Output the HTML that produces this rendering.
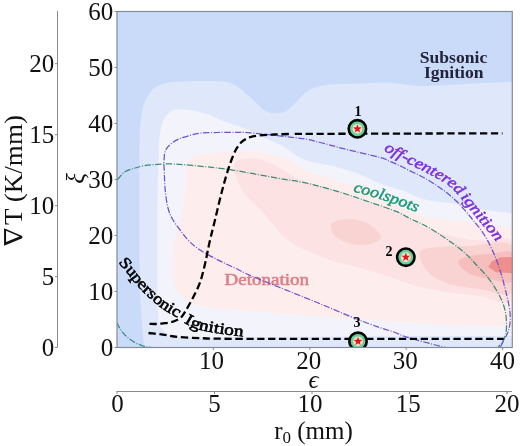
<!DOCTYPE html>
<html><head><meta charset="utf-8"><style>
html,body{margin:0;padding:0;background:#fff;}
body{width:520px;height:446px;overflow:hidden;}
svg{display:block;}
.tk{font-family:"Liberation Serif","DejaVu Serif",serif;font-size:25px;fill:#111;}
.bx{font-family:"Liberation Serif","DejaVu Serif",serif;font-weight:bold;}
</style></head><body>
<svg width="520" height="446" viewBox="0 0 520 446">
<defs><clipPath id="pc"><rect x="117" y="11.5" width="395.3" height="336"/></clipPath>
<path id="pOff" d="M383.5,150.3 C386.9,152.2 397.1,157.9 404.0,161.5 C410.9,165.1 418.5,168.6 425.0,172.0 C431.5,175.4 438.5,179.2 443.0,182.0 C447.5,184.8 449.2,186.0 452.0,188.5 C454.8,191.0 457.3,193.9 460.0,197.0 C462.7,200.1 465.4,204.1 468.0,207.3 C470.6,210.6 473.0,213.5 475.5,216.5 C478.0,219.5 480.6,222.7 483.0,225.5 C485.4,228.3 487.8,230.8 490.0,233.5 C492.2,236.2 495.4,240.6 496.5,242.0"/>
<path id="pSup" d="M118.3,262.5 C120.1,264.7 125.5,271.3 129.0,275.5 C132.4,279.7 134.3,282.9 139.0,287.8 C143.7,292.7 152.2,300.6 157.0,304.6 C161.8,308.6 164.1,309.8 167.5,312.0 C170.9,314.2 175.8,316.8 177.5,317.8"/>
<path id="pIgn" d="M184.0,322.6 C185.3,323.3 189.0,325.7 192.0,327.0 C195.0,328.3 196.6,329.1 201.9,330.3 C207.2,331.5 216.8,333.2 223.6,334.2 C230.4,335.2 239.8,336.1 243.0,336.5"/>
<path id="pCool" d="M353.0,191.5 C356.7,192.5 368.0,195.4 375.0,197.5 C382.0,199.6 388.0,201.6 395.0,204.0 C402.0,206.4 413.3,210.7 417.0,212.0"/>
</defs>
<g clip-path="url(#pc)">
<rect x="117" y="11.5" width="395.3" height="336" fill="#c9dbf9"/>
<path d="M144.0,347.5 C143.4,339.6 141.3,316.2 140.5,300.0 C139.7,283.8 139.6,266.7 139.4,250.0 C139.2,233.3 139.3,216.7 139.3,200.0 C139.3,183.3 139.3,162.5 139.5,150.0 C139.7,137.5 139.7,132.0 140.3,125.0 C140.9,118.0 141.9,112.6 143.0,108.0 C144.1,103.4 145.3,100.6 147.0,97.5 C148.7,94.4 150.7,91.7 153.0,89.5 C155.3,87.3 157.8,85.8 161.0,84.5 C164.2,83.2 167.2,82.5 172.0,82.0 C176.8,81.5 181.7,81.3 190.0,81.2 C198.3,81.1 214.6,81.0 222.0,81.6 C229.4,82.2 231.0,83.4 234.5,85.0 C238.0,86.6 239.6,88.2 243.0,91.0 C246.4,93.8 251.4,98.5 255.0,101.7 C258.6,104.9 261.4,108.5 264.6,110.4 C267.8,112.3 270.5,113.2 274.0,113.3 C277.5,113.4 282.2,113.1 285.8,111.3 C289.4,109.5 291.9,106.0 295.4,102.7 C298.9,99.4 302.9,94.2 307.0,91.5 C311.1,88.8 315.3,87.5 320.0,86.3 C324.7,85.1 328.3,84.8 335.0,84.3 C341.7,83.8 351.0,83.8 360.0,83.5 C369.0,83.2 381.5,82.6 389.0,82.8 C396.5,83.0 399.8,84.0 405.0,84.5 C410.2,85.0 414.2,85.8 420.0,86.0 C425.8,86.2 432.5,85.8 440.0,85.5 C447.5,85.2 456.7,84.5 465.0,84.0 C473.3,83.5 482.1,83.1 490.0,82.8 C497.9,82.5 508.6,82.1 512.3,82.0 L512.3,347.5 Z" fill="#dfe8fb"/>
<path d="M176.0,337.5 C173.5,335.9 164.1,333.4 161.0,328.0 C157.9,322.6 158.2,318.0 157.6,305.0 C157.0,292.0 157.3,267.5 157.3,250.0 C157.3,232.5 157.3,216.7 157.6,200.0 C157.8,183.3 158.4,161.2 158.8,150.0 C159.2,138.8 159.4,138.0 160.2,133.0 C161.0,128.0 161.9,123.4 163.5,120.0 C165.1,116.6 167.2,114.2 169.5,112.5 C171.8,110.8 173.2,109.9 177.0,109.6 C180.8,109.3 187.3,109.8 192.0,110.5 C196.7,111.2 200.8,112.2 205.0,113.5 C209.2,114.8 212.8,116.8 217.0,118.5 C221.2,120.2 225.5,121.9 230.0,123.5 C234.5,125.1 239.2,126.1 244.0,128.0 C248.8,129.9 254.5,132.9 258.8,135.0 C263.1,137.1 265.9,138.6 270.0,140.5 C274.1,142.4 279.0,143.9 283.5,146.5 C288.0,149.1 292.5,153.5 297.0,156.0 C301.5,158.5 304.9,159.9 310.4,161.5 C315.9,163.1 325.1,164.4 330.0,165.5 C334.9,166.6 335.0,166.5 340.0,168.0 C345.0,169.5 352.7,171.7 360.0,174.5 C367.3,177.3 376.1,182.2 383.6,185.0 C391.1,187.8 398.2,188.9 405.0,191.3 C411.8,193.7 415.4,197.3 424.6,199.5 C433.8,201.7 450.9,202.9 460.0,204.5 C469.1,206.1 470.3,207.5 479.0,209.0 C487.7,210.5 506.7,212.8 512.3,213.5 L512.3,336 L480,336 C400,336 300,336.5 200,337.5 Z" fill="#f3f4fb"/>
<path d="M186.0,172.0 C186.3,170.3 186.5,164.7 188.0,162.0 C189.5,159.3 191.8,157.4 195.0,156.0 C198.2,154.6 201.2,154.2 207.0,153.5 C212.8,152.8 222.8,151.9 230.0,151.5 C237.2,151.1 241.8,150.2 250.0,151.0 C258.2,151.8 271.7,154.1 279.0,156.0 C286.3,157.9 289.8,160.2 294.0,162.5 C298.2,164.8 298.0,166.8 304.0,169.5 C310.0,172.2 324.0,176.4 330.0,178.5 C336.0,180.6 335.0,180.7 340.0,182.0 C345.0,183.3 353.0,183.9 360.0,186.5 C367.0,189.1 374.5,193.8 382.0,197.5 C389.5,201.2 397.0,205.1 405.0,208.5 C413.0,211.9 420.8,215.9 430.0,218.0 C439.2,220.1 451.8,220.0 460.0,221.0 C468.2,222.0 470.3,222.9 479.0,224.0 C487.7,225.1 506.7,226.9 512.3,227.5 L512.3,326.5 C510.2,326.5 510.4,326.8 500.0,326.5 C489.6,326.2 466.7,325.8 450.0,325.0 C433.3,324.2 415.7,323.0 400.0,322.0 C384.3,321.0 372.7,320.1 356.0,319.0 C339.3,317.9 317.7,316.8 300.0,315.5 C282.3,314.2 266.0,312.4 250.0,311.0 C234.0,309.6 214.1,308.7 203.8,307.0 C193.6,305.3 192.7,303.2 188.5,301.0 C184.3,298.8 181.3,297.3 178.8,294.0 C176.3,290.7 174.5,286.9 173.4,281.4 C172.3,275.9 172.1,267.7 172.2,261.0 C172.3,254.3 172.8,247.7 174.2,241.0 C175.5,234.3 178.4,229.3 180.3,220.8 C182.2,212.3 184.6,198.1 185.5,190.0 C186.4,181.9 185.9,175.0 186.0,172.0Z" fill="#fdeeed"/>
<path d="M234.0,166.0 C234.3,163.2 235.8,161.8 238.0,160.5 C240.2,159.2 243.3,158.7 247.0,158.5 C250.7,158.3 255.3,158.3 260.0,159.5 C264.7,160.7 270.0,163.1 275.0,165.5 C280.0,167.9 285.8,171.7 290.0,174.0 C294.2,176.3 294.0,177.2 300.0,179.5 C306.0,181.8 317.8,185.2 326.0,188.0 C334.2,190.8 341.3,193.3 349.0,196.0 C356.7,198.7 364.2,201.2 372.0,204.0 C379.8,206.8 387.2,209.0 395.5,212.5 C403.8,216.0 414.1,221.6 421.5,225.0 C428.9,228.4 432.8,230.7 440.0,233.0 C447.2,235.3 456.7,237.7 465.0,239.0 C473.3,240.3 482.1,240.3 490.0,241.0 C497.9,241.7 508.6,233.2 512.3,243.0 C516.0,252.8 517.7,291.2 512.3,300.0 C506.9,308.8 490.9,297.3 480.0,296.0 C469.1,294.7 457.0,293.5 447.0,292.0 C437.0,290.5 429.0,289.3 420.0,287.0 C411.0,284.7 402.2,281.0 393.0,278.0 C383.8,275.0 373.8,271.5 365.0,269.0 C356.2,266.5 346.0,264.6 340.0,263.0 C334.0,261.4 333.3,261.1 329.0,259.5 C324.7,257.9 318.8,255.5 314.0,253.5 C309.2,251.5 304.7,250.0 300.0,247.5 C295.3,245.0 290.0,241.8 286.0,238.5 C282.0,235.2 279.0,231.4 276.0,228.0 C273.0,224.6 270.8,221.2 268.0,218.0 C265.2,214.8 262.0,211.5 259.0,208.5 C256.0,205.5 253.0,203.4 250.0,200.0 C247.0,196.6 243.3,191.8 241.0,188.0 C238.7,184.2 237.2,180.7 236.0,177.0 C234.8,173.3 233.7,168.8 234.0,166.0Z" fill="#fce2e2"/>
<path d="M331.0,225.0 C331.8,222.3 336.0,220.9 340.0,220.0 C344.0,219.1 350.0,218.7 355.0,219.5 C360.0,220.3 365.7,222.1 370.0,225.0 C374.3,227.9 381.0,233.8 381.0,237.0 C381.0,240.2 374.8,242.8 370.0,244.0 C365.2,245.2 357.8,245.3 352.0,244.0 C346.2,242.7 338.5,239.2 335.0,236.0 C331.5,232.8 330.2,227.7 331.0,225.0Z" fill="#f9d2d2"/>
<path d="M420.0,252.0 C422.0,247.8 431.7,248.0 440.0,247.0 C448.3,246.0 457.9,246.2 470.0,246.0 C482.1,245.8 505.2,238.3 512.3,246.0 C519.3,253.7 517.7,284.8 512.3,292.0 C506.9,299.2 490.4,290.3 480.0,289.0 C469.6,287.7 458.7,286.8 450.0,284.0 C441.3,281.2 433.0,277.3 428.0,272.0 C423.0,266.7 418.0,256.2 420.0,252.0Z" fill="#f9d2d2"/>
<path d="M458.0,262.0 C458.0,259.0 464.7,257.3 470.0,256.0 C475.3,254.7 482.9,254.5 490.0,254.0 C497.1,253.5 508.6,248.5 512.3,253.0 C516.0,257.5 516.0,276.7 512.3,281.0 C508.6,285.3 497.1,280.2 490.0,279.0 C482.9,277.8 475.3,276.8 470.0,274.0 C464.7,271.2 458.0,265.0 458.0,262.0Z" fill="#f6bfbd"/>
<path d="M488.2,267 L491.7,261.5 L499.8,257.4 L512.3,257 L512.3,273.2 L496.2,272.3 Z" fill="#ef8e8c"/>
<text x="224.6" y="285" font-family="Liberation Serif, DejaVu Serif, serif" font-size="16.5" fill="#dc7f86" stroke="#dc7f86" stroke-width="0.55" textLength="84.5" lengthAdjust="spacingAndGlyphs">Detonation</text>
<path d="M117.3,179.8 C118.5,178.5 121.8,173.9 124.6,172.0 C127.4,170.1 131.0,169.3 134.2,168.3 C137.4,167.3 140.0,166.5 143.8,165.8 C147.7,165.2 152.5,164.7 157.3,164.4 C162.1,164.1 166.9,163.8 172.7,164.0 C178.5,164.2 182.4,164.5 192.0,165.4 C201.6,166.3 215.5,167.5 230.0,169.7 C244.5,171.9 266.8,176.3 279.0,178.4 C291.2,180.5 295.2,180.7 303.0,182.3 C310.8,183.9 318.3,186.0 326.0,188.1 C333.7,190.2 341.3,192.5 349.0,195.0 C356.7,197.5 364.6,200.4 372.4,203.1 C380.1,205.8 389.0,208.5 395.5,211.2 C402.0,213.9 406.9,217.1 411.2,219.2 C415.5,221.3 417.9,222.0 421.5,223.8 C425.1,225.6 429.1,227.9 433.0,230.2 C436.9,232.5 440.8,235.1 444.6,237.7 C448.5,240.3 452.2,242.8 456.1,245.8 C460.0,248.8 464.3,252.4 467.7,255.6 C471.1,258.8 473.1,261.3 476.5,265.0 C479.9,268.7 484.7,273.4 488.0,277.6 C491.3,281.8 494.0,286.1 496.3,290.0 C498.6,293.9 500.5,297.4 502.0,301.0 C503.5,304.6 504.6,307.8 505.3,311.5 C506.1,315.2 506.4,319.3 506.5,323.0 C506.6,326.7 506.5,330.6 505.8,333.7 C505.1,336.8 503.8,339.2 502.5,341.5 C501.2,343.8 498.8,346.5 498.0,347.5" fill="none" stroke="#3d8a76" stroke-width="1.25" stroke-dasharray="6.4 1.6 1 1.6"/>
<path d="M116.7,322.5 C117.3,323.7 119.0,327.2 120.6,329.5 C122.2,331.8 124.0,334.1 126.2,336.2 C128.4,338.3 131.4,340.4 134.0,342.0 C136.6,343.6 139.4,344.7 141.9,345.6 C144.4,346.5 146.7,346.8 149.0,347.2 C151.3,347.6 154.8,347.9 156.0,348.0" fill="none" stroke="#3a8f8a" stroke-width="1.3" stroke-dasharray="6.4 1.6 1 1.6"/>
<path d="M450.0,348.5 C447.0,347.8 439.3,346.1 432.0,344.1 C424.7,342.2 412.4,338.8 406.0,336.8 C399.6,334.8 398.1,333.5 393.8,332.0 C389.5,330.5 386.4,329.9 380.0,327.7 C373.6,325.4 365.9,322.7 355.4,318.5 C344.9,314.3 329.8,307.8 317.0,302.5 C304.2,297.2 289.7,291.5 278.5,287.0 C267.3,282.5 257.2,278.4 250.0,275.3 C242.8,272.2 240.6,270.8 235.2,268.2 C229.8,265.6 223.3,262.7 217.3,259.6 C211.3,256.5 204.2,252.9 199.3,249.6 C194.4,246.3 191.2,243.3 188.0,240.0 C184.8,236.7 182.6,233.3 180.0,229.8 C177.4,226.3 174.4,222.6 172.4,219.0 C170.4,215.4 169.2,212.8 168.0,208.0 C166.8,203.2 165.8,196.3 165.2,190.0 C164.6,183.7 164.4,174.8 164.2,170.0 C164.0,165.2 163.8,164.2 164.0,161.0 C164.2,157.8 164.2,153.5 165.4,150.6 C166.6,147.7 168.8,145.7 171.0,143.8 C173.2,141.9 175.9,140.3 178.8,139.0 C181.7,137.7 185.0,136.8 188.5,135.8 C192.0,134.8 195.2,133.8 200.0,133.2 C204.8,132.6 211.2,132.7 217.3,132.5 C223.4,132.3 231.1,132.2 236.5,132.3 C241.9,132.4 239.4,131.8 250.0,132.8 C260.6,133.8 288.3,136.7 300.0,138.3 C311.7,139.9 312.3,140.7 320.0,142.5 C327.7,144.3 336.0,146.8 346.0,149.3 C356.0,151.8 372.5,155.4 380.0,157.5 C387.5,159.6 387.6,160.4 391.2,161.9 C394.8,163.4 397.9,164.8 401.5,166.5 C405.1,168.2 409.1,170.4 413.0,172.3 C416.9,174.2 420.8,175.9 424.6,178.0 C428.4,180.1 432.4,182.6 436.0,185.0 C439.6,187.4 443.2,189.9 446.5,192.5 C449.8,195.1 452.9,197.8 456.0,200.8 C459.1,203.8 462.2,207.2 465.0,210.3 C467.8,213.4 470.0,216.4 472.5,219.5 C475.0,222.6 477.7,225.5 480.0,228.7 C482.3,231.9 484.6,235.2 486.5,238.5 C488.4,241.8 489.8,244.9 491.5,248.5 C493.2,252.1 494.8,255.4 496.5,260.0 C498.2,264.6 500.2,270.4 501.8,276.0 C503.4,281.6 505.1,288.7 506.3,293.5 C507.5,298.3 508.2,301.4 508.9,305.0 C509.5,308.6 510.0,311.8 510.2,315.0 C510.4,318.2 510.3,321.2 509.9,324.0 C509.5,326.8 508.9,329.6 508.0,332.0 C507.1,334.4 506.1,335.9 504.8,338.5 C503.5,341.1 500.8,346.0 500.0,347.5" fill="none" stroke="#6e52cc" stroke-width="1.25" stroke-dasharray="6.4 1.6 1 1.6"/>
<path d="M149.5,323.8 C150.6,323.8 153.8,324.1 156.0,324.0 C158.2,323.9 160.5,323.7 163.0,323.4 C165.5,323.1 168.5,322.9 170.8,322.3 C173.1,321.7 175.2,320.9 177.0,320.0 C178.8,319.1 180.2,318.3 181.5,317.0 C182.8,315.7 183.8,314.0 185.0,312.0 C186.2,310.0 187.5,307.7 189.0,305.0 C190.5,302.3 192.3,299.0 193.8,296.0 C195.3,293.0 196.9,290.1 198.2,287.0 C199.5,283.9 200.5,281.3 201.6,277.5 C202.7,273.7 204.0,268.2 205.0,264.0 C206.0,259.8 206.6,256.3 207.5,252.0 C208.4,247.7 209.3,243.0 210.5,238.0 C211.7,233.0 213.1,227.8 214.5,222.0 C215.9,216.2 217.5,209.2 219.0,203.0 C220.5,196.8 222.1,190.5 223.6,185.0 C225.1,179.5 226.6,174.4 228.0,170.0 C229.4,165.6 230.7,161.9 232.0,158.5 C233.3,155.1 234.5,152.2 236.0,149.5 C237.5,146.8 239.3,144.3 241.0,142.5 C242.7,140.7 244.2,139.8 246.0,138.8 C247.8,137.8 249.7,137.2 252.0,136.6 C254.3,136.0 256.2,135.7 260.0,135.3 C263.8,135.0 269.7,134.7 275.0,134.5 C280.3,134.3 289.2,134.0 292.0,133.9" fill="none" stroke="#000" stroke-width="2.3" stroke-dasharray="7.3 3.6"/>
<path d="M292,133.9 L502.5,133.3" fill="none" stroke="#000" stroke-width="2.3" stroke-dasharray="7.3 3.6" stroke-dashoffset="8.2"/>
<path d="M148.5,333.0 C150.9,333.3 158.0,333.9 163.0,334.6 C168.0,335.3 172.1,336.4 178.5,337.0 C184.9,337.6 194.6,337.9 201.5,338.2 C208.4,338.5 210.2,338.6 220.0,338.7 C229.8,338.8 253.3,338.9 260.0,338.9 L503.7,338.9" fill="none" stroke="#000" stroke-width="2.3" stroke-dasharray="7.3 3.6" stroke-dashoffset="0"/>
<circle cx="357.4" cy="128.8" r="8.7" fill="#62d39c" stroke="#000" stroke-width="2.6"/><circle cx="357.4" cy="128.8" r="4.9" fill="#f8ddc6"/><polygon points="357.40,124.20 358.52,127.26 361.77,127.38 359.21,129.39 360.10,132.52 357.40,130.70 354.70,132.52 355.59,129.39 353.03,127.38 356.28,127.26" fill="#e8131c"/>
<circle cx="405.8" cy="257.2" r="8.7" fill="#62d39c" stroke="#000" stroke-width="2.6"/><circle cx="405.8" cy="257.2" r="4.9" fill="#f8ddc6"/><polygon points="405.80,252.60 406.92,255.66 410.17,255.78 407.61,257.79 408.50,260.92 405.80,259.10 403.10,260.92 403.99,257.79 401.43,255.78 404.68,255.66" fill="#e8131c"/>
<circle cx="358.0" cy="341.3" r="8.7" fill="#62d39c" stroke="#000" stroke-width="2.6"/><circle cx="358.0" cy="341.3" r="4.9" fill="#f8ddc6"/><polygon points="358.00,336.70 359.12,339.76 362.37,339.88 359.81,341.89 360.70,345.02 358.00,343.20 355.30,345.02 356.19,341.89 353.63,339.88 356.88,339.76" fill="#e8131c"/>
</g>
<g class="bx" font-size="14" fill="#000" text-anchor="middle">
<text x="358" y="115.5">1</text>
<text x="389" y="255.5">2</text>
<text x="357" y="327">3</text>
</g>
<g class="bx" font-size="16.2" fill="#23233a">
<text x="419.8" y="62.7" textLength="67.4" lengthAdjust="spacingAndGlyphs">Subsonic</text>
<text x="423.9" y="78.4" textLength="59.6" lengthAdjust="spacingAndGlyphs">Ignition</text>
</g>
<text font-family="Liberation Serif, DejaVu Serif, serif" font-size="15.5" font-style="italic" fill="#7d2fe0" stroke="#7d2fe0" stroke-width="0.5" word-spacing="-2"><textPath href="#pOff" textLength="148.2" lengthAdjust="spacingAndGlyphs">off-centered ignition</textPath></text>
<text font-family="Liberation Serif, DejaVu Serif, serif" font-size="15.5" font-style="italic" fill="#1f9a78" stroke="#1f9a78" stroke-width="0.5"><textPath href="#pCool" textLength="67.2" lengthAdjust="spacingAndGlyphs">coolspots</textPath></text>
<text font-family="Liberation Serif, DejaVu Serif, serif" font-size="16" fill="#000" stroke="#000" stroke-width="0.6"><textPath href="#pSup" textLength="81.8" lengthAdjust="spacingAndGlyphs">Supersonic</textPath> <textPath href="#pIgn" textLength="61.2" lengthAdjust="spacingAndGlyphs">Ignition</textPath></text>
<!-- frame -->
<rect x="117" y="11.5" width="395.3" height="336" fill="none" stroke="#858b99" stroke-width="1.2"/>
<!-- ticks -->
<g stroke="#858b99" stroke-width="1">
<line x1="114.5" y1="347.5" x2="117" y2="347.5"/>
<line x1="114.5" y1="291.5" x2="117" y2="291.5"/>
<line x1="114.5" y1="235.5" x2="117" y2="235.5"/>
<line x1="114.5" y1="179.5" x2="117" y2="179.5"/>
<line x1="114.5" y1="123.5" x2="117" y2="123.5"/>
<line x1="114.5" y1="67.5" x2="117" y2="67.5"/>
<line x1="114.5" y1="11.5" x2="117" y2="11.5"/>
<line x1="213.4" y1="347.5" x2="213.4" y2="350"/>
<line x1="309.8" y1="347.5" x2="309.8" y2="350"/>
<line x1="406.2" y1="347.5" x2="406.2" y2="350"/>
<line x1="502.6" y1="347.5" x2="502.6" y2="350"/>
<line x1="117.0" y1="391.5" x2="117.0" y2="394"/>
<line x1="214.5" y1="391.5" x2="214.5" y2="394"/>
<line x1="312.0" y1="391.5" x2="312.0" y2="394"/>
<line x1="409.5" y1="391.5" x2="409.5" y2="394"/>
<line x1="507.0" y1="391.5" x2="507.0" y2="394"/>
<line x1="55" y1="347.5" x2="57.5" y2="347.5"/>
<line x1="55" y1="276.6" x2="57.5" y2="276.6"/>
<line x1="55" y1="205.6" x2="57.5" y2="205.6"/>
<line x1="55" y1="134.7" x2="57.5" y2="134.7"/>
<line x1="55" y1="63.7" x2="57.5" y2="63.7"/>
</g>
<!-- secondary axes -->
<line x1="57.5" y1="11" x2="57.5" y2="347.5" stroke="#8a8a8a" stroke-width="1"/>
<line x1="116.5" y1="391.5" x2="512" y2="391.5" stroke="#8a8a8a" stroke-width="1"/>
<g class="tk" text-anchor="end">
<text x="113.3" y="356.1">0</text>
<text x="113.3" y="300.1">10</text>
<text x="113.3" y="244.1">20</text>
<text x="113.3" y="188.1">30</text>
<text x="113.3" y="132.1">40</text>
<text x="113.3" y="76.1">50</text>
<text x="113.3" y="20.1">60</text>
<text x="54.2" y="356.1">0</text>
<text x="54.2" y="285.2">5</text>
<text x="54.2" y="214.2">10</text>
<text x="54.2" y="143.2">15</text>
<text x="54.2" y="72.3">20</text>
</g>
<g class="tk" text-anchor="middle">
<text x="211.4" y="369">10</text>
<text x="308.8" y="369">20</text>
<text x="405.2" y="369">30</text>
<text x="502.6" y="369">40</text>
<text x="117.5" y="412.3">0</text>
<text x="214.5" y="412.3">5</text>
<text x="310.0" y="412.3">10</text>
<text x="408.3" y="412.3">15</text>
<text x="507.0" y="412.3">20</text>
</g>
<text class="tk" x="313.5" y="388" text-anchor="middle" font-style="italic">ϵ</text>
<text class="tk" x="313.5" y="439" text-anchor="middle">r<tspan font-size="17" dy="4">0</tspan><tspan dy="-4"> (mm)</tspan></text>
<text class="tk" transform="translate(84,178.5) rotate(-90)" text-anchor="middle" font-style="italic" font-size="31">ξ</text>
<text class="tk" transform="translate(22,182) rotate(-90)" text-anchor="middle" textLength="134" lengthAdjust="spacingAndGlyphs"><tspan font-family="DejaVu Math TeX Gyre, DejaVu Serif, serif">∇</tspan>T (K/mm)</text>
</svg>
</body></html>
